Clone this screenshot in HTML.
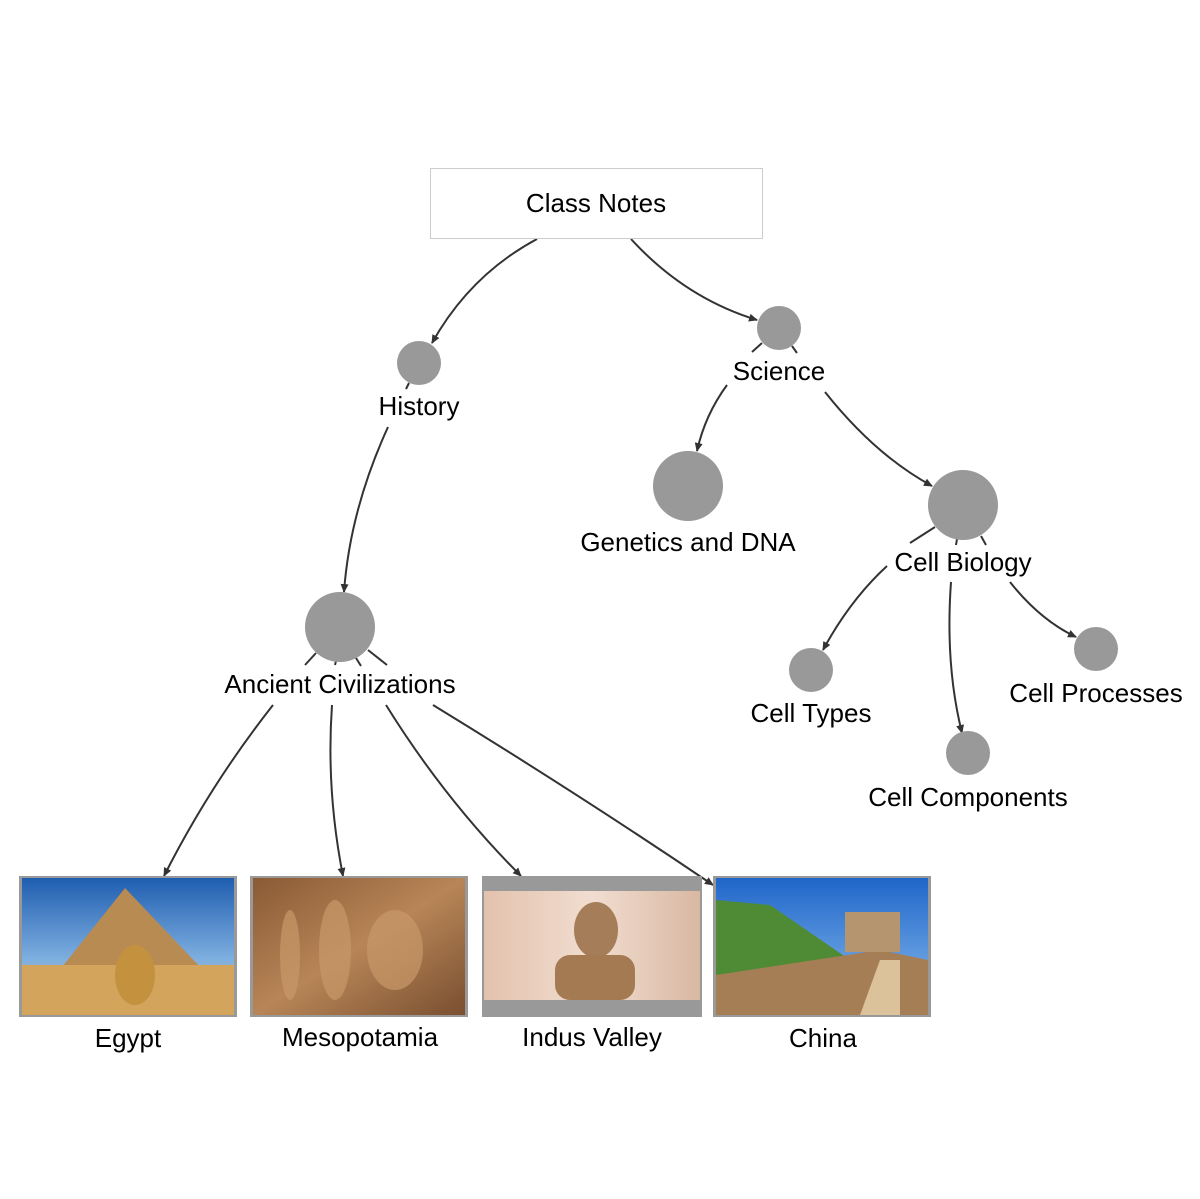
<!DOCTYPE html>
<html><head><meta charset="utf-8"><style>
html,body{margin:0;padding:0;background:#fff;}
svg{display:block;}
text{font-family:"Liberation Sans",Arial,sans-serif;font-size:26px;fill:#000;text-anchor:middle;}
</style></head><body>
<svg width="1200" height="1199" viewBox="0 0 1200 1199" xmlns="http://www.w3.org/2000/svg">
<defs>
<marker id="a" markerWidth="10" markerHeight="10" refX="8" refY="5" orient="auto" markerUnits="userSpaceOnUse">
<path d="M0,1 L9,5 L0,9 Z" fill="#333"/></marker>
<linearGradient id="sky" x1="0" y1="0" x2="0" y2="1"><stop offset="0" stop-color="#1f5db0"/><stop offset="0.6" stop-color="#7fb0e0"/><stop offset="1" stop-color="#d9b56a"/></linearGradient>
<linearGradient id="meso" x1="0" y1="0" x2="1" y2="1"><stop offset="0" stop-color="#8a5a35"/><stop offset="0.5" stop-color="#b78557"/><stop offset="1" stop-color="#7a4f30"/></linearGradient>
<linearGradient id="ind" x1="0" y1="0" x2="1" y2="0"><stop offset="0" stop-color="#e3c2ad"/><stop offset="0.5" stop-color="#f1ddd0"/><stop offset="1" stop-color="#d9b8a2"/></linearGradient>
<linearGradient id="chsky" x1="0" y1="0" x2="0" y2="1"><stop offset="0" stop-color="#1f66c9"/><stop offset="1" stop-color="#8fc0ef"/></linearGradient>
</defs>
<g fill="none" stroke="#333" stroke-width="2">
<path d="M537,239 Q470,275 432,343" marker-end="url(#a)"/>
<path d="M631,239 Q685,298 757,320" marker-end="url(#a)"/>
<path d="M388,427 Q350,510 344,592" marker-end="url(#a)"/>
<path d="M727,385 Q705,415 697,451" marker-end="url(#a)"/>
<path d="M825,392 Q875,455 932,486" marker-end="url(#a)"/>
<path d="M887,566 Q850,600 823,650" marker-end="url(#a)"/>
<path d="M951,582 Q945,665 962,733" marker-end="url(#a)"/>
<path d="M1010,582 Q1040,620 1076,637" marker-end="url(#a)"/>
<path d="M273,705 Q210,785 164,876" marker-end="url(#a)"/>
<path d="M332,705 Q326,790 343,876" marker-end="url(#a)"/>
<path d="M386,705 Q445,800 521,876" marker-end="url(#a)"/>
<path d="M433,705 Q580,795 713,885" marker-end="url(#a)"/>
<path d="M409,383 L406,389"/>
<path d="M762,343 L752,352 M792,346 L797,353"/>
<path d="M935,527 L910,543 M957,539 L956,545 M981,536 L986,545"/>
<path d="M316,653 L305,665 M336,661 L335,665 M356,658 L361,666 M368,650 L387,665"/>
</g>
<rect x="430.5" y="168.5" width="332" height="70" fill="#fff" stroke="#ccc"/>
<text x="596" y="212">Class Notes</text>
<g fill="#999">
<circle cx="419" cy="363" r="22"/>
<circle cx="779" cy="328" r="22"/>
<circle cx="688" cy="486" r="35"/>
<circle cx="963" cy="505" r="35"/>
<circle cx="340" cy="627" r="35"/>
<circle cx="811" cy="670" r="22"/>
<circle cx="1096" cy="649" r="22"/>
<circle cx="968" cy="753" r="22"/>
</g>
<text x="419" y="415">History</text>
<text x="779" y="380">Science</text>
<text x="688" y="551">Genetics and DNA</text>
<text x="963" y="571">Cell Biology</text>
<text x="340" y="693">Ancient Civilizations</text>
<text x="811" y="722">Cell Types</text>
<text x="1096" y="702">Cell Processes</text>
<text x="968" y="806">Cell Components</text>
<!-- Egypt -->
<rect x="19" y="876" width="218" height="141" fill="#999"/>
<rect x="22" y="878" width="212" height="137" fill="url(#sky)"/>
<polygon points="58,972 125,888 205,972" fill="#b88b52"/>
<rect x="22" y="965" width="212" height="50" fill="#d2a45c"/>
<ellipse cx="135" cy="975" rx="20" ry="30" fill="#c4913f"/>
<!-- Meso -->
<rect x="250" y="876" width="218" height="141" fill="#999"/>
<rect x="253" y="878" width="212" height="137" fill="url(#meso)"/>
<g fill="#c9996a" opacity="0.7"><ellipse cx="290" cy="955" rx="10" ry="45"/><ellipse cx="335" cy="950" rx="16" ry="50"/><ellipse cx="395" cy="950" rx="28" ry="40"/></g>
<!-- Indus -->
<rect x="482" y="876" width="220" height="141" fill="#999"/>
<rect x="484" y="891" width="216" height="109" fill="url(#ind)"/>
<ellipse cx="596" cy="930" rx="22" ry="28" fill="#a57d58"/>
<rect x="555" y="955" width="80" height="45" rx="15" fill="#a37a52"/>
<!-- China -->
<rect x="713" y="876" width="218" height="141" fill="#999"/>
<rect x="716" y="878" width="212" height="137" fill="url(#chsky)"/>
<polygon points="716,900 770,905 850,960 900,975 928,960 928,1015 716,1015" fill="#4f8a35"/>
<polygon points="716,975 880,950 928,960 928,1015 716,1015" fill="#a67e55"/>
<polygon points="860,1015 880,960 900,960 900,1015" fill="#dcc29a"/>
<rect x="845" y="912" width="55" height="40" fill="#b59470"/>
<text x="128" y="1047">Egypt</text>
<text x="360" y="1046">Mesopotamia</text>
<text x="592" y="1046">Indus Valley</text>
<text x="823" y="1047">China</text>
</svg>
</body></html>
